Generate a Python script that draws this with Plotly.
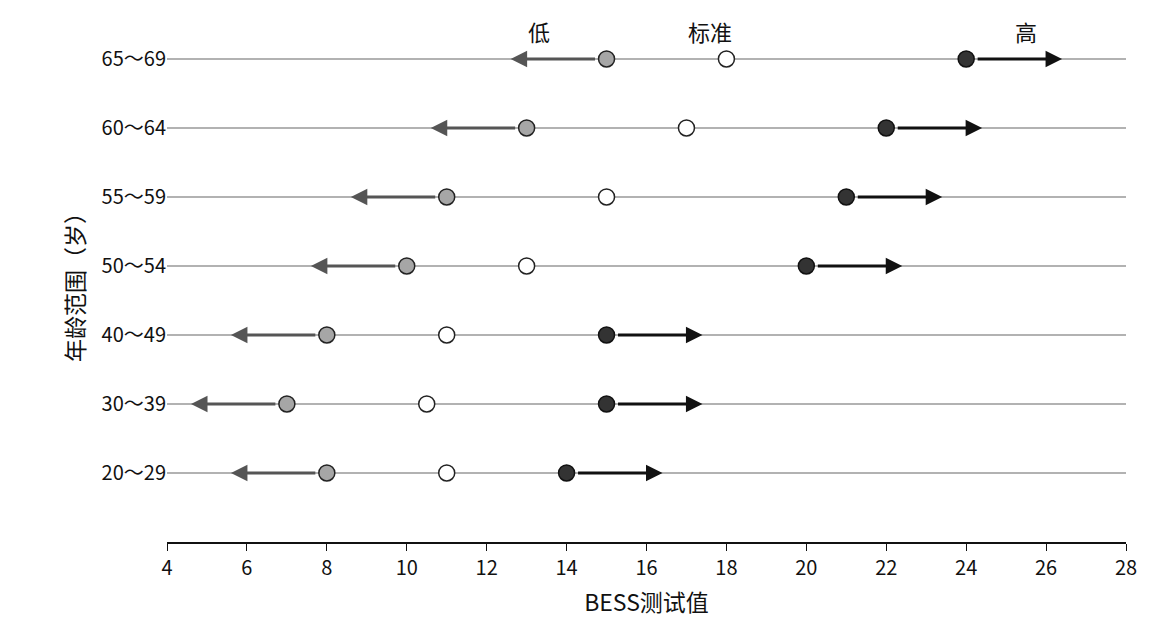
import plotly.graph_objects as go

groups = ["20～29", "30～39", "40～49", "50～54", "55～59", "60～64", "65～69"]
low = [8, 7, 8, 10, 11, 13, 15]
standard = [11, 10.5, 11, 13, 15, 17, 18]
high = [14, 15, 15, 20, 21, 22, 24]
arrow_len = 2.4

ypos = list(range(len(groups)))
font = "Noto Sans CJK SC"

fig = go.Figure()
fig.add_trace(go.Scatter(x=low, y=ypos, mode="markers",
                         marker=dict(size=16, color="#a6a6a6", line=dict(color="#222", width=1.5))))
fig.add_trace(go.Scatter(x=standard, y=ypos, mode="markers",
                         marker=dict(size=16, color="white", line=dict(color="#222", width=1.5))))
fig.add_trace(go.Scatter(x=high, y=ypos, mode="markers",
                         marker=dict(size=16, color="#333333", line=dict(color="#111", width=1.5))))

for i, y in enumerate(ypos):
    fig.add_shape(type="line", x0=4, x1=28, y0=y, y1=y, layer="below",
                  line=dict(color="#999", width=1.5))
    fig.add_annotation(x=low[i] - arrow_len, y=y, ax=low[i] - 0.25, ay=y,
                       xref="x", yref="y", axref="x", ayref="y", text="",
                       showarrow=True, arrowhead=2, arrowsize=1.1, arrowwidth=3,
                       arrowcolor="#555")
    fig.add_annotation(x=high[i] + arrow_len, y=y, ax=high[i] + 0.25, ay=y,
                       xref="x", yref="y", axref="x", ayref="y", text="",
                       showarrow=True, arrowhead=2, arrowsize=1.1, arrowwidth=3,
                       arrowcolor="#111")

for txt, x in [("低", 13.3), ("标准", 17.6), ("高", 25.5)]:
    fig.add_annotation(x=x, y=6.4, text=txt, showarrow=False,
                       font=dict(size=22, color="#111", family=font))

fig.update_layout(
    width=1167, height=639, showlegend=False,
    plot_bgcolor="white", paper_bgcolor="white",
    margin=dict(l=159, r=49, t=13, b=105),
    font=dict(family=font, size=20, color="#111"),
    xaxis=dict(range=[4, 28], dtick=2, showgrid=False, zeroline=False,
               showline=True, linecolor="#111", linewidth=1.5,
               ticks="outside", ticklen=7, tickcolor="#111",
               title=dict(text="BESS测试值", font=dict(size=23), standoff=15)),
    yaxis=dict(range=[-1, 6.55], tickvals=ypos, ticktext=groups, showgrid=False,
               zeroline=False, showline=False, ticks="",
               title=dict(text="年龄范围（岁）", font=dict(size=23), standoff=10)),
)
fig.write_html("out.html")
